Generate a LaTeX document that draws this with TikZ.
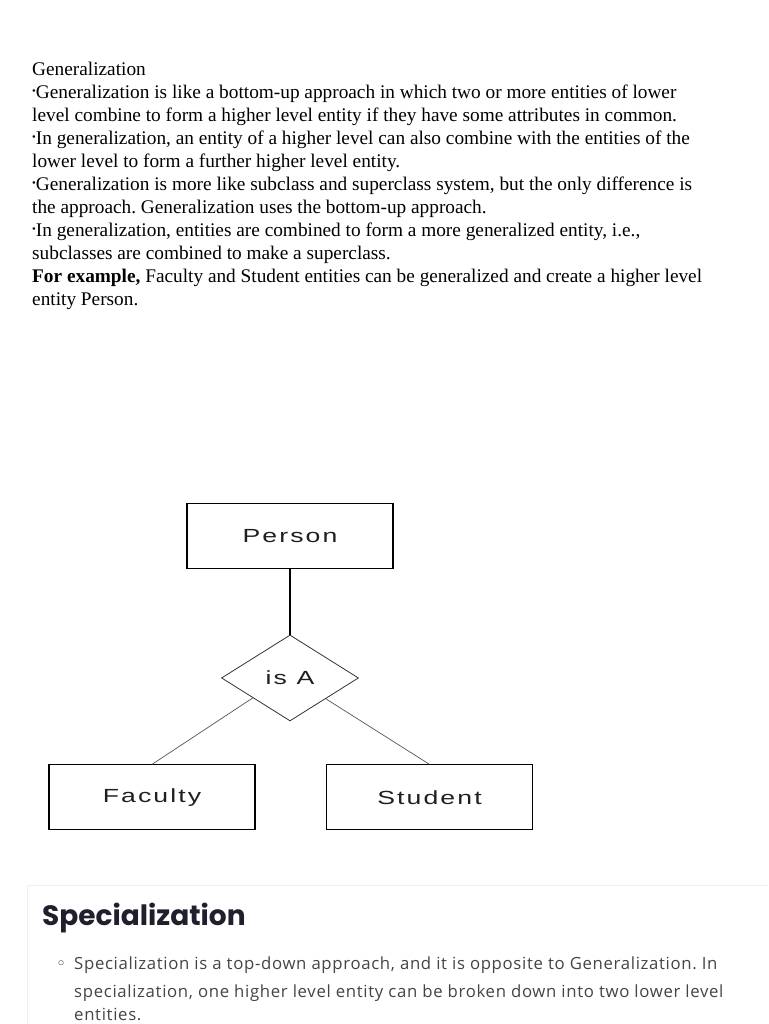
\documentclass[tikz,border=0pt]{standalone}
\usepackage{fontspec}
\usepackage{graphicx}
\setmainfont{Liberation Serif}
\newfontfamily\erfont[LetterSpace=8]{Liberation Sans}
\newfontfamily\headfont{Poppins}
\newfontfamily\bodyfont[LetterSpace=4]{Open Sans}
\newfontfamily\symfont{DejaVu Sans}
\usetikzlibrary{positioning,shapes.geometric,calc}
\frenchspacing

\definecolor{headcol}{HTML}{1F1F2E}
\definecolor{bodycol}{HTML}{444444}
\definecolor{linecol}{HTML}{555555}

\newcommand{\dotmark}{\raisebox{0.45ex}{\scalebox{0.55}{•}}}
\newcommand{\ername}[1]{\scalebox{1.4}[1]{\erfont #1}}

\tikzset{
  txtline/.style={anchor=base west, inner sep=0pt, font=\fontsize{19.3}{22}\selectfont},
  entity/.style={draw, line width=1.1pt, minimum width=206pt, minimum height=65pt,
    inner sep=0pt, font=\fontsize{19}{22}\selectfont, text=black!88},
  isabox/.style={diamond, draw=black!80, line width=0.8pt, minimum width=137pt,
    minimum height=86pt, inner sep=0pt, font=\fontsize{19}{22}\selectfont, text=black!88},
  link/.style={draw=linecol, line width=0.7pt},
  bodyline/.style={anchor=base west, inner sep=0pt, text=bodycol,
    font=\bodyfont\fontsize{16.75}{28}\selectfont},
}

\begin{document}
\begin{tikzpicture}[x=1pt,y=-1pt]
  \useasboundingbox[fill=white] (0,0) rectangle (768,1024);

  %% text above the diagram
  \node[txtline] (g0) at (32,75.5) {Generalization};
  \node[txtline] (g1) at (32,98.5) {\dotmark Generalization is like a bottom-up approach in which two or more entities of lower};
  \node[txtline] (g2) at (32,121.5) {level combine to form a higher level entity if they have some attributes in common.};
  \node[txtline] (g3) at (32,144.5) {\dotmark In generalization, an entity of a higher level can also combine with the entities of the};
  \node[txtline] (g4) at (32,167.5) {lower level to form a further higher level entity.};
  \node[txtline] (g5) at (32,190.5) {\dotmark Generalization is more like subclass and superclass system, but the only difference is};
  \node[txtline] (g6) at (32,213.5) {the approach. Generalization uses the bottom-up approach.};
  \node[txtline] (g7) at (32,236.5) {\dotmark In generalization, entities are combined to form a more generalized entity, i.e.,};
  \node[txtline] (g8) at (32,259.5) {subclasses are combined to make a superclass.};
  \node[txtline] (g9) at (32,282.5) {\textbf{For example,} Faculty and Student entities can be generalized and create a higher level};
  \node[txtline] (g10) at (32,305.5) {entity Person.};

  %% the diagram
  \node[entity] (person) at (290,536) {\ername{Person}};
  \node[isabox, below=65.5pt of person] (isa) {\ername{is A}};
  \node[entity, below=43pt of isa, xshift=-138pt] (faculty) {\ername{Faculty}};
  \node[entity, below=43pt of isa, xshift=139.5pt] (student) {\ername{Student}};
  % lines
  \draw[line width=1.1pt] (person.south) -- (isa.north);
  \draw[link] ($(isa.west)!0.46!(isa.south)$) -- (faculty.north);
  \draw[link] ($(isa.east)!0.48!(isa.south)$) -- (student.north);

  %% the part below
  \draw[black!6, line width=0.8pt] (27,1024) |- (768,885);
  \node[anchor=base west, inner sep=0pt, text=headcol,
    font=\headfont\bfseries\fontsize{28}{32}\selectfont] (spec) at (42,925) {Specialization};
  \node[anchor=base west, inner sep=0pt, text=bodycol,
    font=\symfont\fontsize{17}{20}\selectfont] (sdot) at (56,969) {◦};
  \node[bodyline] (s1) at (74,969) {Specialization is a top-down approach, and it is opposite to Generalization. In};
  \node[bodyline] (s2) at (74,997) {specialization, one higher level entity can be broken down into two lower level};
  \node[bodyline] (s3) at (74,1020) {entities.};
\end{tikzpicture}
\end{document}
